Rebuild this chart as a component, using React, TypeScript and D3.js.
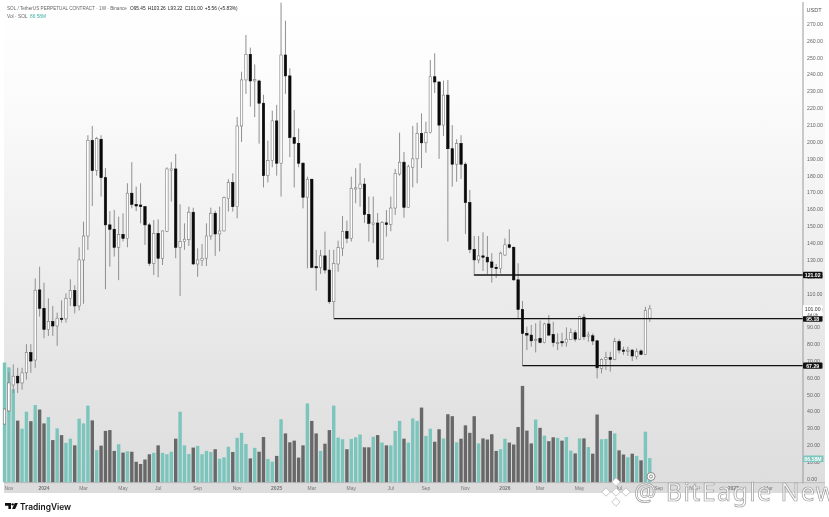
import React from "react";
import * as d3 from "d3";

const opens = [
  32.6,40.4,55.8,61,57,63,75,70.6,112.2,101.3,
  88.8,93.4,90.8,95.4,95,107.2,111.8,102.7,130,144.2,
  201,183,201.6,178.8,150.8,148.2,137.5,145.2,142.8,169.6,
  163,162.6,161.6,150.8,128,145.8,131,147,183,184,
  137.5,140.9,142,158.3,127.6,129.6,131,144.2,157.7,145.4,
  147.2,166.6,175.9,161.6,209.5,236.8,252,236.2,236.2,223,
  180,189,212.5,187.4,251.6,239.2,202.6,199.2,187.4,167.2,
  177.9,126,125.6,132.4,124,105.2,127.6,137,147,142.8,
  172.5,172.5,175,157,151,151.9,130.5,152,151,160.8,
  181,188,161.2,185,190,205,199.5,205.5,238.7,235.6,
  210,227.8,196,186.8,199.2,186.8,164,136.3,130,132.4,
  131.6,128.8,125.6,124.8,132.9,139,137.5,118.2,100.6,86.4,
  85.4,82.5,83.5,81,92,85.8,80.7,81.5,80.9,82.9,
  86.8,83,96,85,85,82,65.6,71,72,71,
  81.5,76.5,76,76.5,72.6,76,74,95.45,
];
const closes = [
  41.5,57,61,57,63,75,70,112,101.3,88.8,
  93.4,90.8,95.4,94.9,107.2,111.8,102.7,130,144.2,201,
  183,202,178.8,150.8,148.2,137.5,145,142.8,169.6,163,
  162,161.6,150.8,128,145.8,131,147.2,184,184,137.5,
  140.9,142.3,158.3,127.6,130,131,144.2,157.7,145.4,147.2,
  167,175.9,161.6,209.5,236.8,252,236.2,237,223,180,
  189,212.5,187.4,251.6,239.2,202.6,199.2,187.4,167.2,177.9,
  125.6,125.6,132.4,124,105.2,128,137.3,147,142.8,172.5,
  172.8,175,157,151.7,151.9,130.5,152.3,151,160.8,181.4,
  188,161.2,185.3,190,205,199.5,205.5,238.7,235.6,210,
  227.8,196,186.8,199.2,186.8,164,136.3,130,132.4,131.6,
  128.8,125.6,124.8,134,139,137.5,118.2,100.6,86.4,85.4,
  82,82.9,81,92,85.4,80.9,81,81,83,86.8,
  83,96.3,84.4,85.5,81.9,66,71,72,71,81.5,
  76.5,76,76.5,73,75.5,74,100,101,
];
const highs = [
  42,63.5,68,66,66,80,80,119,126,116.5,
  107.2,102.7,98.7,106,110.2,118.5,115,137.5,152.7,204,
  209.5,203,204,184.5,159,159.7,155.7,157.7,175.5,188,
  173.5,175.5,162,152,153.7,154,147.5,185,188,192.9,
  163,151.7,161.6,161,136.9,139.5,151.7,161,159.2,161.6,
  167.6,177.9,181.4,214.8,241.7,263.5,256,246,237,228,
  200.8,218.6,222,282.7,272,243.7,219,208,188,179.4,
  178,136,136,146.8,136,136,141.4,156,153.3,179.4,
  184.4,187.4,178.5,167.6,167.6,157.8,153,159.6,167.6,184,
  205.5,194,186.5,209.5,211.4,217,212,248.7,252.6,236,
  236.4,236.8,210,201.6,204,188,171.5,144.2,144.2,146.4,
  144.2,134,127.6,134.9,142.8,148.2,138,128,105.6,90.4,
  91.4,92.4,94,92.7,97.3,93.3,86.4,86.8,90,89.4,
  88.4,96.7,97.9,87.4,86.4,82.5,71.5,75.5,75.5,83.8,
  82.9,78.5,78.5,77,77.5,77,102.2,103.26,
];
const lows = [
  32,39.8,51,51,53,59,63,66,96.4,83.5,
  84.9,84.9,79,92.8,92.8,102.7,98.3,100,104,136,
  162,180,167.6,112.6,126,132,118,140.9,137.5,160.7,
  159,151.7,138.9,126.4,121,119.7,127,146.5,164.6,131,
  108.6,136,138.3,127,120,126.4,126.4,141.9,132.4,135,
  147,158.7,158.7,154.7,200,228.5,221,214.7,199,173,
  176,185,180,167.6,228.5,191,173,185,160.6,125,
  125,111.8,121.7,122,103.9,95.6,123,132.4,139.9,140.9,
  163.6,161.6,152,140.9,140,125.6,130,143.8,147,156.7,
  180,155,161,173,175.5,184.5,193.6,205,229,190,
  203.6,140.9,173.5,176.4,178,145.4,134,120.5,128,123.4,
  121.7,116.5,119.3,122,132.4,136.8,117.5,95.5,67.3,76.5,
  78.5,75.1,80.5,80.5,84.8,78.5,76.5,78.5,78.5,82.5,
  81.5,82.5,82.5,81.5,79.5,59.7,62.7,64.7,63.7,70.5,
  74.5,73.6,73,70,71,73.5,73.5,93.22,
];
const volumes = [
  431,414,335,222,193,254,220,278,262,212,
  235,152,194,170,142,157,133,229,212,276,
  223,116,132,185,188,113,137,107,112,110,
  74,66,82,101,106,133,106,101,110,157,
  254,133,102,125,131,101,113,109,119,85,
  90,128,109,160,178,138,86,124,110,163,
  84,74,95,227,176,144,150,89,133,284,
  221,176,113,139,188,276,161,155,119,156,
  162,172,126,126,164,170,143,133,133,185,
  221,157,143,230,221,269,167,193,146,191,
  158,245,238,144,157,205,178,238,140,158,
  154,173,113,119,157,143,136,199,347,186,
  140,226,196,168,148,162,160,150,163,114,
  104,158,158,127,103,244,155,156,185,176,
  115,100,90,103,95,79,182,87,
];
const priceTicks = d3.range(0, 280, 10);
const levels = [
  { value: 121.02, start: 107 },
  { value: 95.18, start: 75 },
  { value: 67.29, start: 118 },
];
const timeLabels = ["Nov","2024","Mar","May","Jul","Sep","Nov","2025","Mar","May","Jul","Sep","Nov","2026","Mar","May","Jul","Sep","Nov","2027","Mar"];
const timeIndex = [1,9,18,27,35,44,53,62,70,79,88,96,105,114,122,131,140,149,157,166,174];
const headerMain = "SOL / TetherUS PERPETUAL CONTRACT · 1W · Binance";
const headerOhlc = ["O95.45", "H103.26", "L93.22", "C101.00", "+5.56 (+5.83%)"];

const W = 829, H = 517;
const AXIS_X = 803;
const PANE_R = 825;
const PANE_L = 4;
const BASE = 482.3;
const PANE_B = 493;

const x = d3.scaleLinear().domain([0, 147]).range([4.5, 649.8]);
const y = d3.scaleLinear().domain([0, 270]).range([479, 24]);
const v = d3.scaleLinear().domain([0, 432]).range([BASE, 362.3]);

const FONT = "'Liberation Sans', Arial, sans-serif";
const UP_BAR = "#7cc5bc";
const DOWN_BAR = "#686868";
const WICK = "#8f8f8f";

const diamonds = [
  { dx: 0, dy: -10, s: 6 },
  { dx: -10, dy: 0, s: 6 },
  { dx: 10, dy: 0, s: 6 },
  { dx: 0, dy: 10, s: 6 },
  { dx: 0, dy: 0, s: 6 },
];

export default function App() {
  const candleW = 2.4;
  const barW = 3.4;
  return (
    <svg
      width={W}
      height={H}
      viewBox={`0 0 ${W} ${H}`}
      style={{ position: "absolute", left: 0, top: 0, background: "#fff", filter: "blur(0.4px)" }}
    >
      <defs>
        <linearGradient id="paneBg" x1="0" x2="0" y1="0" y2="1">
          <stop offset="0" stopColor="#ffffff" />
          <stop offset="0.2" stopColor="#fbfbfb" />
          <stop offset="0.5" stopColor="#efefef" />
          <stop offset="0.75" stopColor="#e5e5e5" />
          <stop offset="1" stopColor="#dddddd" />
        </linearGradient>
      </defs>
      <rect x={PANE_L} y={2} width={PANE_R - PANE_L} height={PANE_B - 2} fill="url(#paneBg)" />

      {/* volume */}
      {volumes.map((vol, i) => (
        <rect
          key={i}
          x={x(i) - barW / 2}
          y={v(vol)}
          width={barW}
          height={BASE - v(vol)}
          fill={closes[i] >= opens[i] ? UP_BAR : DOWN_BAR}
        />
      ))}

      {/* candles */}
      {opens.map((o, i) => {
        const c = closes[i];
        const up = c >= o;
        const top = y(Math.max(o, c));
        const bot = y(Math.min(o, c));
        return (
          <g key={i}>
            <line x1={x(i)} x2={x(i)} y1={y(highs[i])} y2={y(lows[i])} stroke={WICK} strokeWidth={1} />
            <rect
              x={x(i) - candleW / 2}
              y={top}
              width={candleW}
              height={Math.max(bot - top, 1.2)}
              fill={up ? "#ffffff" : "#0a0a0a"}
              stroke={up ? "#7a7a7a" : "#0a0a0a"}
              strokeWidth={0.6}
            />
          </g>
        );
      })}

      {/* horizontal levels */}
      {levels.map((l) => (
        <line key={l.value} x1={x(l.start)} x2={AXIS_X} y1={y(l.value)} y2={y(l.value)} stroke="#111" strokeWidth={1.4} />
      ))}

      {/* axes frame */}
      <line x1={AXIS_X} x2={AXIS_X} y1={2} y2={PANE_B} stroke="#9a9a9a" strokeWidth={1} />
      <line x1={PANE_L} x2={PANE_R} y1={BASE + 0.5} y2={BASE + 0.5} stroke="#a8a8a8" strokeWidth={0.8} />
      <rect x={PANE_L} y={BASE + 1} width={PANE_R - PANE_L} height={PANE_B - BASE - 1} fill="#dcdcdc" />

      {/* y axis */}
      <text x={814} y={11.5} fontFamily={FONT} fontSize={5.6} textAnchor="middle" fill="#555">USDT</text>
      {priceTicks.map((t) => (
        <text key={t} x={807} y={y(t) + 1.9} fontFamily={FONT} fontSize={5.2} fill="#666">
          {t.toFixed(2)}
        </text>
      ))}
      {levels.map((l) => (
        <g key={l.value}>
          <rect x={AXIS_X} y={y(l.value) - 3.2} width={19.5} height={6.4} rx={1} fill="#111" />
          <text x={AXIS_X + 9.7} y={y(l.value) + 1.9} fontFamily={FONT} fontSize={5.2} fontWeight="bold" fill="#fff" textAnchor="middle">
            {l.value.toFixed(2)}
          </text>
        </g>
      ))}
      <rect x={AXIS_X} y={y(101) - 3.6} width={19.5} height={11} fill="#fff" />
      <text x={AXIS_X + 9.7} y={y(101) + 1.9} fontFamily={FONT} fontSize={5.2} fill="#333" textAnchor="middle">101.00</text>
      <text x={AXIS_X + 9.7} y={y(101) + 6.8} fontFamily={FONT} fontSize={4.4} fill="#555" textAnchor="middle">4d 0h</text>
      <rect x={AXIS_X} y={455.5} width={20.5} height={6.6} fill={UP_BAR} />
      <text x={AXIS_X + 10} y={460.6} fontFamily={FONT} fontSize={5.2} fontWeight="bold" fill="#fff" textAnchor="middle">86.58M</text>

      {/* time axis */}
      {timeLabels.map((label, i) => (
        <text
          key={i}
          x={x(timeIndex[i])}
          y={489.5}
          fontFamily={FONT}
          fontSize={5}
          fontWeight={/^\d/.test(label) ? "bold" : "normal"}
          fill="#777"
          textAnchor="middle"
        >
          {label}
        </text>
      ))}

      {/* header */}
      <text x={7} y={10} fontFamily={FONT} fontSize={4.65} fill="#666">{headerMain}</text>
      <text x={130} y={10} fontFamily={FONT} fontSize={4.75} fill="#222">
        {headerOhlc.map((h, i) => (
          <tspan key={i} dx={i ? 2.2 : 0}>{h}</tspan>
        ))}
      </text>
      <text x={7} y={17.5} fontFamily={FONT} fontSize={4.8} fill="#666">Vol · SOL</text>
      <text x={30} y={17.5} fontFamily={FONT} fontSize={4.8} fill="#3fb0a5">86.58M</text>

      {/* reload icon */}
      <circle cx={651} cy={476.5} r={4} fill="#fff" stroke="#888" strokeWidth={1} />
      <circle cx={651} cy={476.5} r={1.6} fill="none" stroke="#777" strokeWidth={0.8} />

      {/* footer */}
      <g transform="translate(5,503) scale(0.75)" fill="#111">
        <path d="M0 0h8v8h-3.5v-4.2H0z" />
        <circle cx={10.2} cy={1.8} r={1.6} />
        <path d="M13 0h4.2l-3.6 8h-4.2z" />
      </g>
      <text x={20} y={509.5} fontFamily="Inter, 'Liberation Sans', sans-serif" fontSize={8.4} fontWeight={600} fill="#111">TradingView</text>

      {/* watermark */}
      <g transform="translate(616,492)" fill="#ffffff" stroke="#bdbdbd" strokeWidth={0.8}>
        {diamonds.map((d, i) => (
          <rect key={i} x={d.dx - d.s / 2} y={d.dy - d.s / 2} width={d.s} height={d.s} transform={`rotate(45 ${d.dx} ${d.dy})`} />
        ))}
      </g>
      <text
        x={634}
        y={501}
        fontFamily="'Noto Sans', sans-serif"
        fontSize={25}
        letterSpacing={1.4}
        fill="#ffffff"
        fillOpacity={0.7}
        stroke="#9c9c9c"
        strokeWidth={0.7}
      >
        @ BitEagle News
      </text>
    </svg>
  );
}
